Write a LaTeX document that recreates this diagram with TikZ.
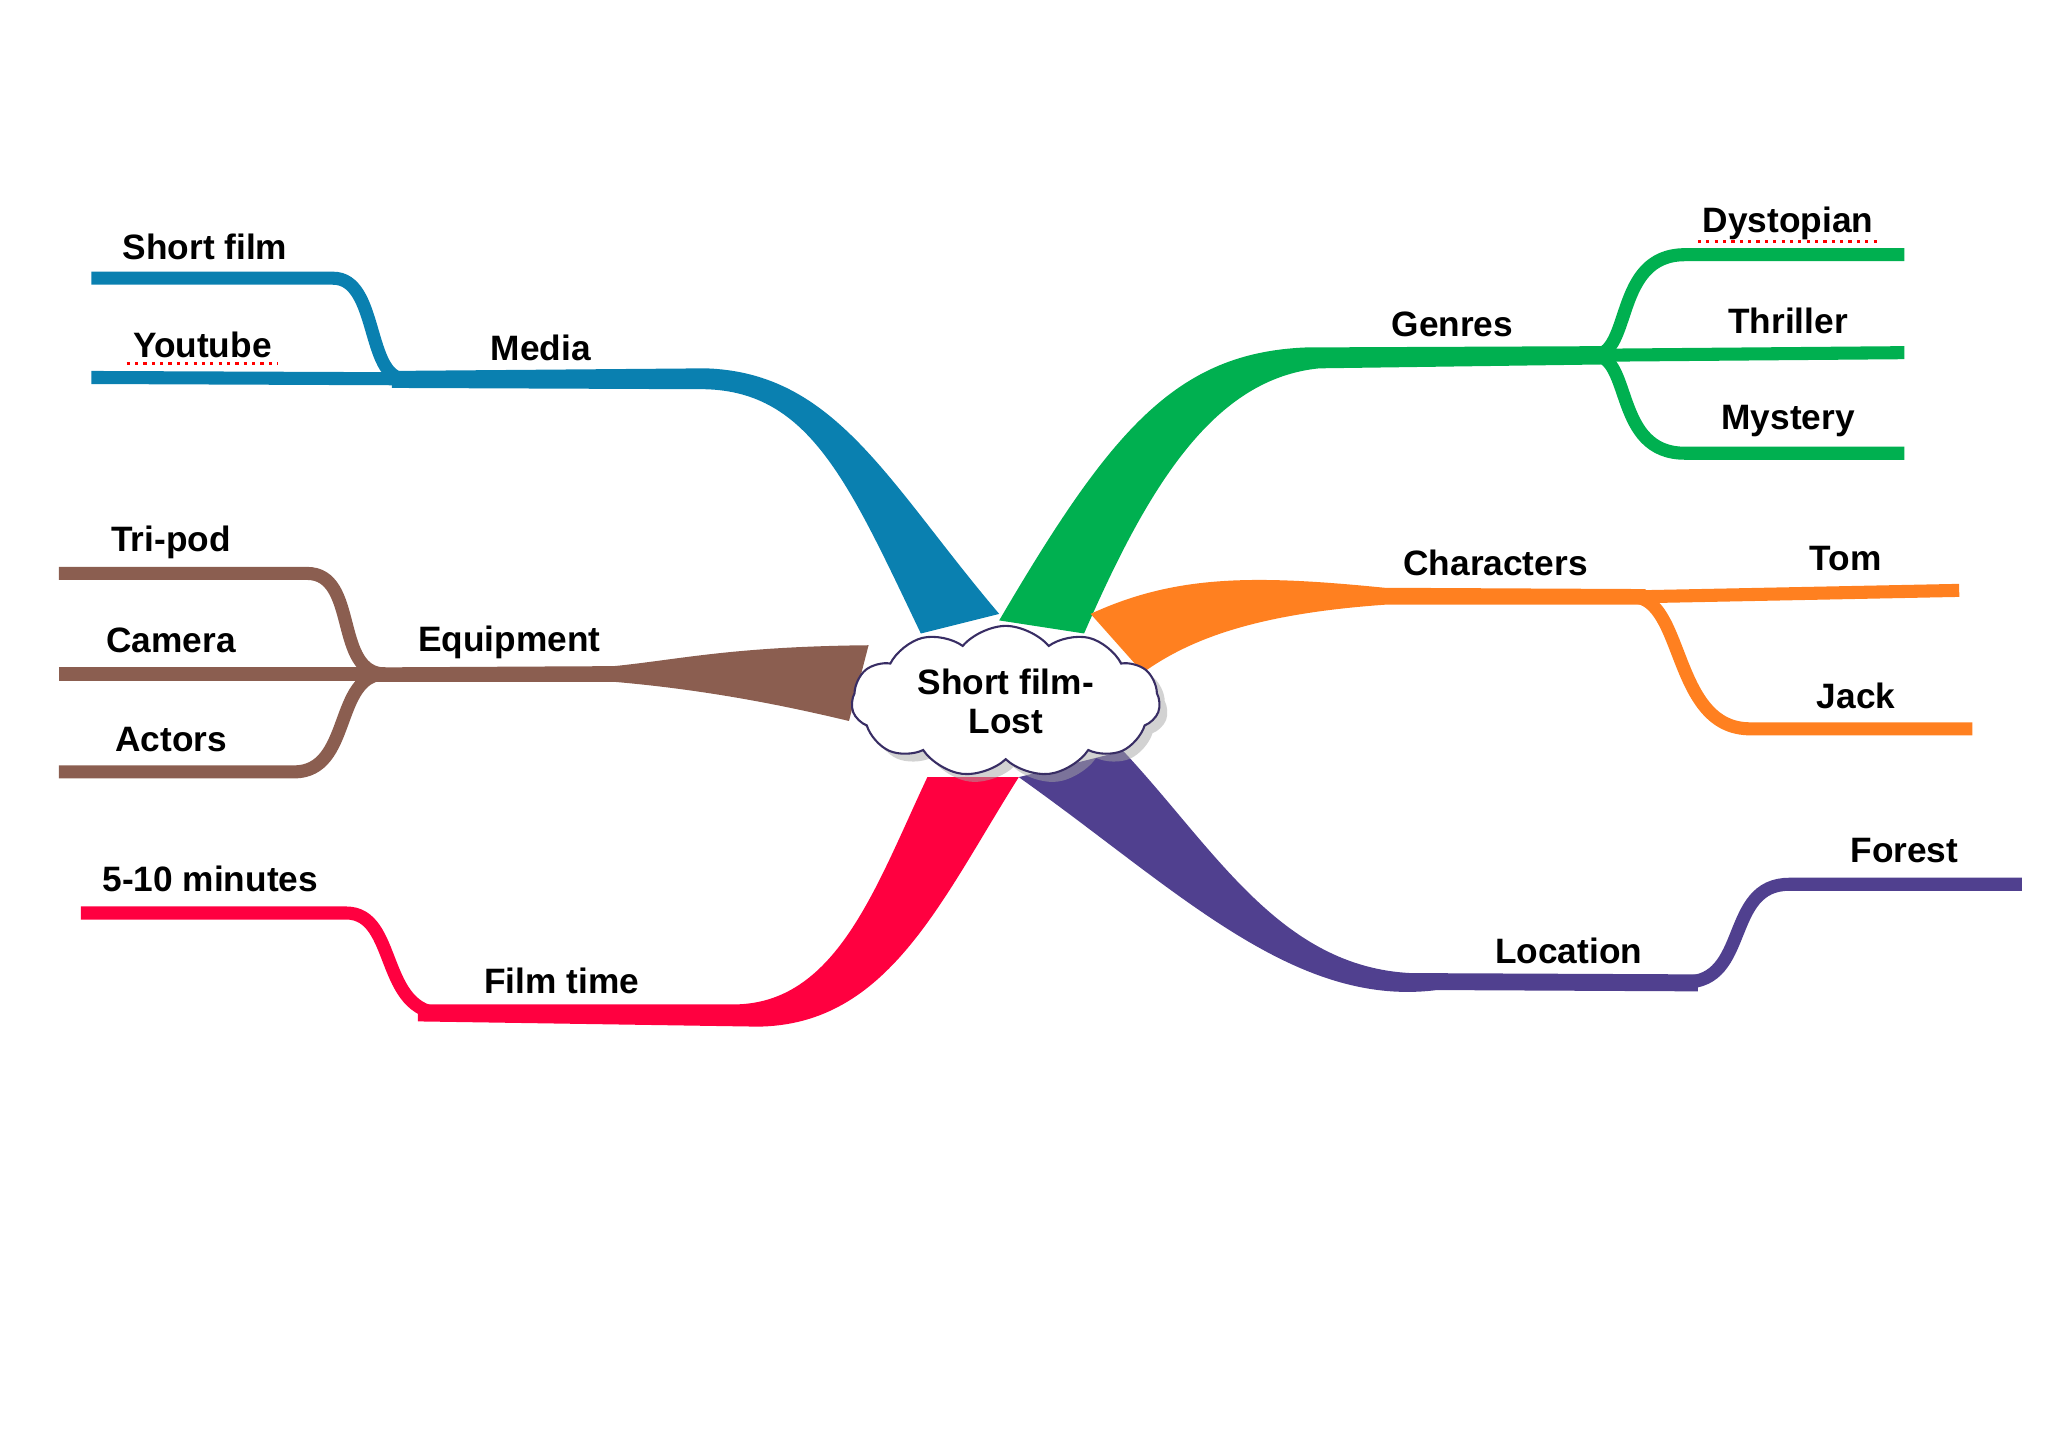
\documentclass[tikz,border=0pt]{standalone}
\usepackage{fontspec}
\setmainfont{Liberation Sans}
\usetikzlibrary{shapes.symbols,shadows}
\definecolor{cmedia}{HTML}{0A80B0}
\definecolor{cgen}{HTML}{00B050}
\definecolor{cchar}{HTML}{FF8020}
\definecolor{cloc}{HTML}{50408F}
\definecolor{cfilm}{HTML}{FF0040}
\definecolor{cequip}{HTML}{8B5E50}
\tikzset{
 lbl/.style={font=\bfseries\fontsize{13.5}{15}\selectfont, inner sep=1pt},
 sub/.style={line width=5pt},
 spell/.style={red, dotted, line width=1.2pt}
}
\begin{document}
\begin{tikzpicture}[x=0.5pt,y=-0.5pt]
\useasboundingbox (0,0) rectangle (1568,1109);
% main branches
\fill[cmedia] (705,485) .. controls (650,370) and (620,300) .. (540,298) -- (300,297) -- (300,284) -- (540,282) .. controls (640,285) and (680,370) .. (765,470) -- cycle;
\fill[cgen] (765,475) .. controls (850,330) and (900,270) .. (1000,266) -- (1230,265) -- (1230,279) -- (1010,282) .. controls (930,290) and (880,370) .. (830,485) -- cycle;
\fill[cchar] (835,470) .. controls (900,440) and (960,440) .. (1060,450) -- (1260,451) -- (1260,463) -- (1060,463) .. controls (960,470) and (910,490) .. (875,515) -- cycle;
\fill[cloc] (860,575) .. controls (930,650) and (980,740) .. (1080,745) -- (1300,746) -- (1300,759) -- (1100,758) .. controls (990,772) and (900,680) .. (780,595) -- cycle;
\fill[cfilm] (710,595) .. controls (670,680) and (640,770) .. (560,769) -- (320,769) -- (320,782) -- (580,786) .. controls (680,785) and (720,690) .. (780,595) -- cycle;
\fill[cequip] (665,494) .. controls (560,495) and (520,505) .. (470,510) -- (280,511) -- (280,522) -- (470,522) .. controls (540,528) and (600,540) .. (650,552) -- cycle;
% sub-branches
\draw[sub,cmedia] (70,213) -- (255,213) .. controls (290,213) and (280,290) .. (310,290);
\draw[sub,cmedia] (70,289) -- (310,290);
\draw[sub,cgen] (1220,272) .. controls (1250,272) and (1235,195) .. (1290,195) -- (1458,195);
\draw[sub,cgen] (1220,272) -- (1458,270);
\draw[sub,cgen] (1220,272) .. controls (1250,272) and (1235,347) .. (1290,347) -- (1458,347);
\draw[sub,cchar] (1250,457) -- (1500,452);
\draw[sub,cchar] (1250,457) .. controls (1290,457) and (1280,558) .. (1340,558) -- (1510,558);
\draw[sub,cloc] (1290,752) .. controls (1340,752) and (1320,677) .. (1370,677) -- (1548,677);
\draw[sub,cfilm] (62,699) -- (265,699) .. controls (305,699) and (290,776) .. (340,776);
\draw[sub,cequip] (45,439) -- (235,439) .. controls (275,439) and (255,516) .. (295,516);
\draw[sub,cequip] (45,516) -- (295,516);
\draw[sub,cequip] (45,591) -- (225,591) .. controls (270,591) and (255,516) .. (295,516);
% centre
\node[cloud, cloud puffs=11, cloud puff arc=100, aspect=2.1, draw=cloc!70!black, thick, fill=white,
 drop shadow={shadow xshift=3pt, shadow yshift=-3pt, fill=gray!70},
 minimum width=118pt, minimum height=54pt, inner sep=0pt, align=center, lbl] (c) at (770,537) {Short film-\\Lost};
% labels
\node[lbl] (m) at (414,266) {Media};
\node[lbl] (m1) at (157,189) {Short film};
\node[lbl] (m2) at (155,264) {Youtube};
\draw[spell] (97,278) -- (213,278);
\node[lbl] (g) at (1112,248) {Genres};
\node[lbl] (g1) at (1369,171) {Dystopian};
\draw[spell] (1300,185) -- (1440,185);
\node[lbl] (g2) at (1369,246) {Thriller};
\node[lbl] (g3) at (1369,322) {Mystery};
\node[lbl] (ch) at (1145,431) {Characters};
\node[lbl] (t) at (1413,428) {Tom};
\node[lbl] (j) at (1421,533) {Jack};
\node[lbl] (l) at (1201,728) {Location};
\node[lbl] (f) at (1458,651) {Forest};
\node[lbl] (ft) at (430,751) {Film time};
\node[lbl] (ft1) at (161,673) {5-10 minutes};
\node[lbl] (e) at (390,492) {Equipment};
\node[lbl] (e1) at (131,415) {Tri-pod};
\node[lbl] (e2) at (131,490) {Camera};
\node[lbl] (e3) at (131,566) {Actors};
\end{tikzpicture}
\end{document}
